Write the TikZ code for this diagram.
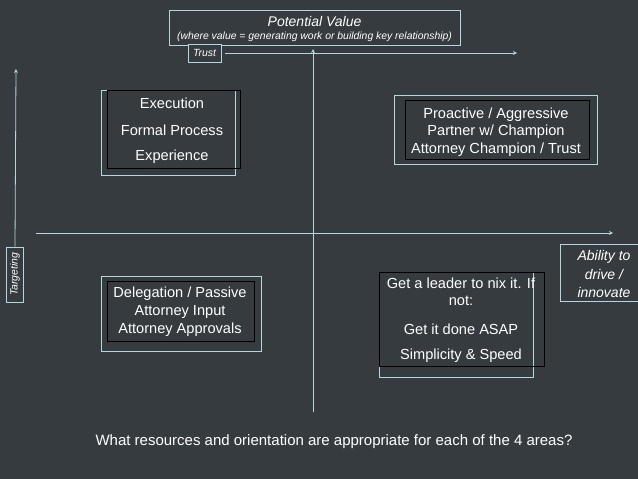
\documentclass[tikz,border=0pt]{standalone}
\usepackage{fontspec}
\setmainfont{Liberation Sans}
\definecolor{board}{HTML}{363B40}
\definecolor{chalk}{HTML}{B5D6DE}
\begin{document}
\begin{tikzpicture}[x=1pt,y=-1pt,
  lbox/.style={draw=chalk,line width=0.8pt},
  kbox/.style={draw=black,line width=0.9pt},
  ax/.style={draw=chalk,line width=0.8pt,-stealth},
  txt/.style={text=white,font=\fontsize{14.6}{16}\selectfont,inner sep=0pt},
  itxt/.style={text=white,font=\fontsize{14}{16}\itshape,inner sep=0pt}]
\fill[board] (0,0) rectangle (638,479);
\useasboundingbox (0,0) rectangle (638,479);
% axes
\coordinate (vb) at (313,412); \coordinate (vt) at (313,49);
\draw[ax] (vb) -- (vt);
\coordinate (hl) at (36,233); \coordinate (hr) at (613,233);
\draw[ax] (hl) -- (hr);
\coordinate (tl) at (225,53); \coordinate (tr) at (517,53);
\draw[ax] (tl) -- (tr);
% title box
\draw[lbox] (169,10) rectangle (460,45);
\node[itxt] (pv) at (314.5,21) {Potential Value};
\node[itxt,font=\fontsize{10.4}{12}\itshape] (pvs) at (314.5,37) {(where value = generating work or building key relationship)};
\node[lbox,fill=board,minimum width=33pt,minimum height=18pt,inner sep=0pt,text=white,font=\fontsize{10.4}{12}\itshape] (trust) at (204.5,53) {Trust};
% targeting
\node[lbox,fill=board,minimum width=55pt,minimum height=17pt,inner sep=0pt,text=white,font=\fontsize{10.4}{12}\itshape,rotate=90] (targ) at (15,274.5) {Targeting};
\coordinate (lt) at (16,69);
\draw[ax] (targ.east) -- (lt);
% ability
\draw[lbox] (560,244) rectangle (638,301);
\node[itxt] (ab1) at (604,257) {Ability to};
\node[itxt] (ab2) at (604,274.5) {drive /};
\node[itxt] (ab3) at (604,292) {innovate};
% Execution
\draw[lbox] (101,90) rectangle (235,175);
\draw[kbox] (107,90) rectangle (240,168);
\node[txt] (e1) at (172,103) {Execution};
\node[txt] (e2) at (172,130) {Formal Process};
\node[txt] (e3) at (172,157) {Experience};
% Proactive
\draw[lbox] (394,95) rectangle (597,164);
\draw[kbox] (405,100) rectangle (589,159);
\node[txt] (p1) at (496,114.5) {Proactive / Aggressive};
\node[txt] (p2) at (496,132) {Partner w/ Champion};
\node[txt] (p3) at (496,149.5) {Attorney Champion / Trust};
% Delegation
\draw[lbox] (101,276) rectangle (261,351);
\draw[kbox] (107,281) rectangle (254,341);
\node[txt] (d1) at (180,294) {Delegation / Passive};
\node[txt] (d2) at (180,312) {Attorney Input};
\node[txt] (d3) at (180,330) {Attorney Approvals};
% Leader
\draw[lbox] (379,272) rectangle (533,377);
\draw[kbox] (379,272) rectangle (544,366);
\node[txt] (g1) at (461,283) {Get a leader to nix it. If};
\node[txt] (g2) at (461,301) {not:};
\node[txt] (g3) at (461,329) {Get it done ASAP};
\node[txt] (g4) at (461,356) {Simplicity \& Speed};
% question
\node[txt,font=\fontsize{15}{17}\selectfont] (q) at (334,442) {What resources and orientation are appropriate for each of the 4 areas?};
\end{tikzpicture}
\end{document}
